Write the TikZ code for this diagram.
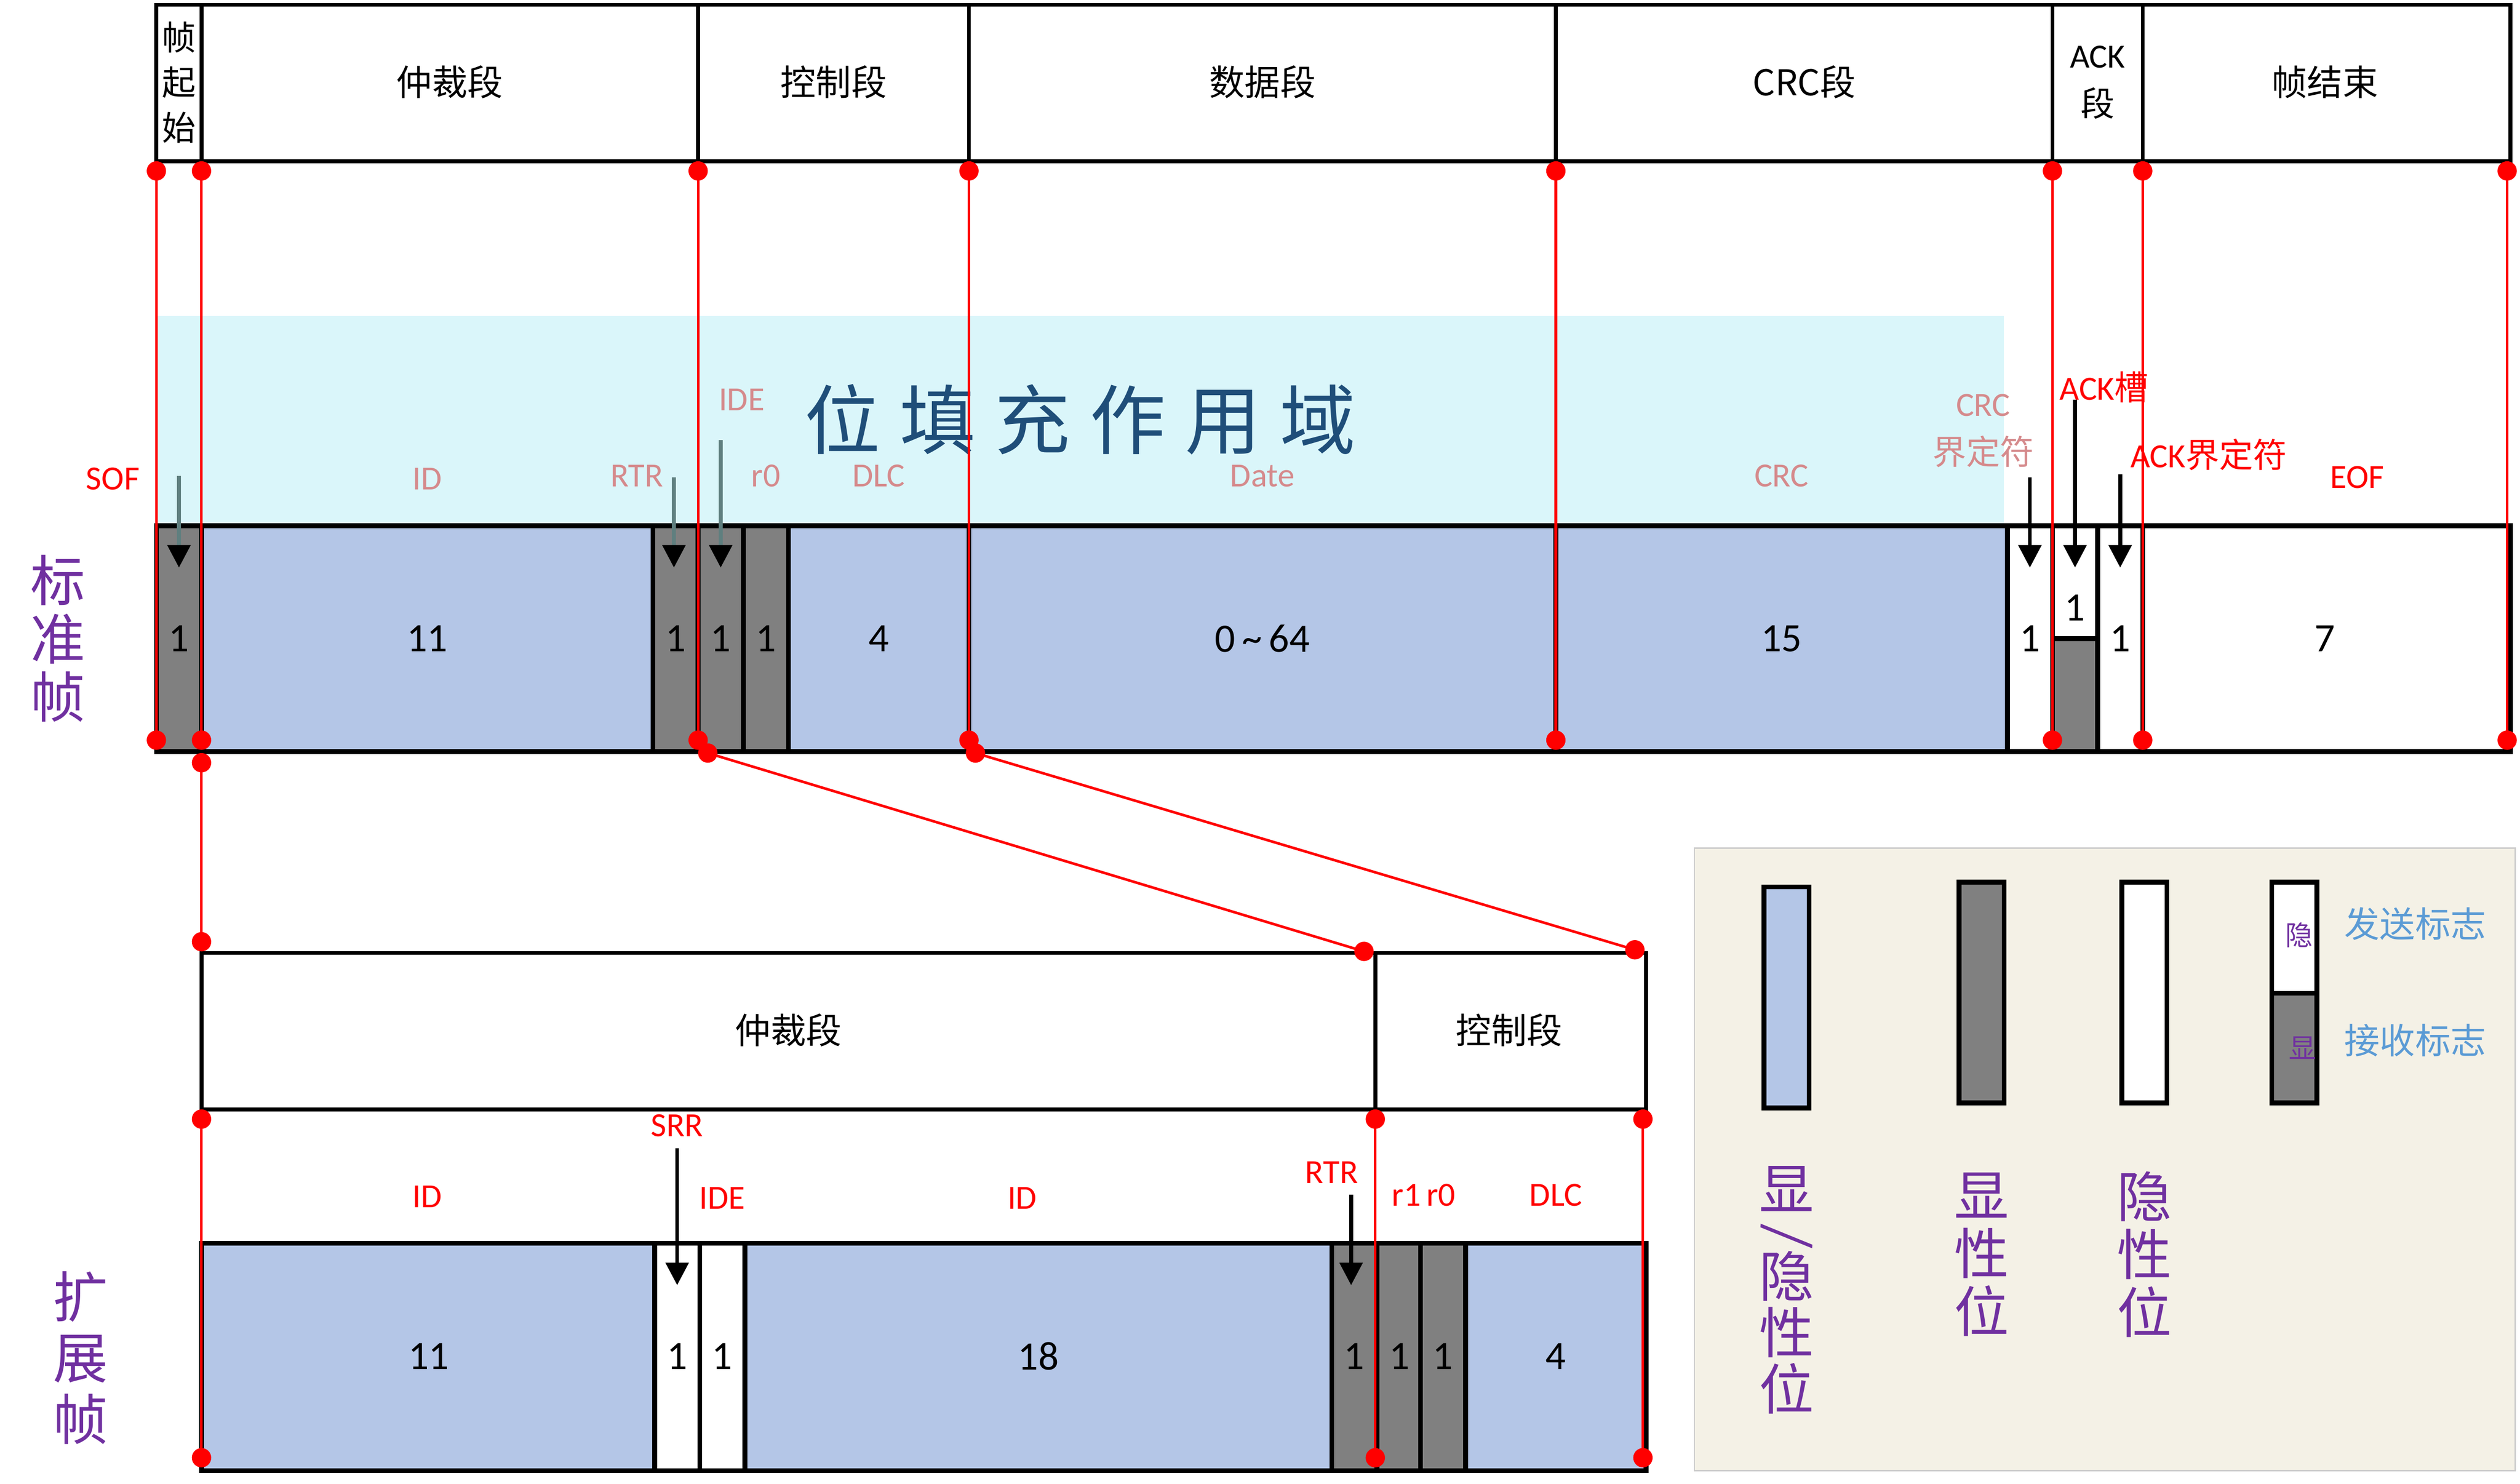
\documentclass[tikz,border=0pt]{standalone}
\usepackage{fontspec}
\setmainfont{Carlito}
\newfontfamily\cjk{Noto Sans CJK SC}
\usetikzlibrary{arrows.meta}
\definecolor{cellblue}{HTML}{B4C6E7}
\definecolor{cellgray}{HTML}{808080}
\definecolor{zone}{HTML}{DAF6FA}
\definecolor{titleblue}{HTML}{1F4E79}
\definecolor{pinklbl}{HTML}{D58A8C}
\definecolor{purp}{HTML}{7030A0}
\definecolor{legbg}{HTML}{F4F1E6}
\definecolor{legtxt}{HTML}{5B9BD5}
\definecolor{shaft}{HTML}{5F7F7F}
\tikzset{
  cellbox/.style={draw=black,line width=1.5pt},
  hdr/.style={font=\cjk\fontsize{11}{13}\selectfont},
  num/.style={font=\fontsize{12.5}{14}\selectfont},
  plbl/.style={text=pinklbl,font=\fontsize{10.5}{12}\selectfont},
  rlbl/.style={text=red,font=\fontsize{10.5}{12}\selectfont},
  dot/.style={circle,fill=red,inner sep=0pt,minimum size=6pt},
  redline/.style={draw=red,line width=0.8pt},
  downarrow/.style={line width=1.2pt,-{Triangle[length=7pt,width=7pt,color=black]}},
  vtxt/.style={text=purp,font=\cjk\fontsize{17}{19}\selectfont,align=center}
}
\begin{document}
\begin{tikzpicture}[x=0.5pt,y=-0.5pt]
\useasboundingbox (0,0) rectangle (1563,920);
% ---- top header ----
\foreach \a/\b in {97/125,125/433,433/601,601/965,965/1273,1273/1329,1329/1557}
  \draw[cellbox,line width=1.2pt] (\a,3) rectangle (\b,100);
\node[hdr,align=center,inner sep=0pt,font=\cjk\fontsize{10.5}{14}\selectfont] (sofh) at (111,51) {帧\\起\\始};
\node[hdr] (arbh) at (279,51) {仲裁段};
\node[hdr] (ctlh) at (517,51) {控制段};
\node[hdr] (dath) at (783,51) {数据段};
\node[hdr] (crch) at (1119,51) {CRC\cjk 段};
\node[hdr,align=center,inner sep=0pt,font=\fontsize{10.5}{15}\selectfont] (ackh) at (1301,51) {ACK\\{\cjk 段}};
\node[hdr] (eofh) at (1442,51) {帧结束};
% ---- stuffing zone ----
\fill[zone] (97,196) rectangle (1243,326);
\node[text=titleblue,font=\cjk\fontsize{23.5}{26}\selectfont] (title) at (670,260) {位\hspace{6pt}填\hspace{6pt}充\hspace{6pt}作\hspace{6pt}用\hspace{6pt}域};
% ---- standard frame ----
\foreach \a/\b/\c in {97/125/cellgray,125/405/cellblue,405/433/cellgray,433/461/cellgray,461/489/cellgray,489/601/cellblue,601/965/cellblue,965/1245/cellblue,1245/1273/white,1301/1329/white,1329/1557/white}
  \draw[cellbox,fill=\c] (\a,326) rectangle (\b,466);
\draw[cellbox,fill=white] (1273,326) rectangle (1301,396);
\draw[cellbox,fill=cellgray] (1273,396) rectangle (1301,466);
\foreach \x/\t in {111/1,265/11,419/1,447/1,475/1,545/4,783/{0\,\textasciitilde\,64},1105/15,1259/1,1315/1,1442/7}
  \node[num] at (\x,396) {\t};
\node[num] at (1287,377) {1};
\node[rlbl] (sof) at (70,297) {SOF};
\node[plbl] (id) at (265,297) {ID};
\node[plbl] (rtr) at (395,295) {RTR};
\node[plbl] (ide) at (460,248) {IDE};
\node[plbl] (r0) at (475,295) {r0};
\node[plbl] (dlc) at (545,295) {DLC};
\node[plbl] (date) at (783,295) {Date};
\node[plbl] (crc) at (1105,295) {CRC};
\node[plbl,align=center,font=\fontsize{10.5}{15}\selectfont] (crcd) at (1230,267) {CRC\\{\cjk 界定符}};
\node[rlbl] (ackslot) at (1305,240) {ACK{\cjk 槽}};
\node[rlbl] (ackd) at (1370,282) {ACK{\cjk 界定符}};
\node[rlbl] (eof) at (1462,296) {EOF};
\node[vtxt,font=\cjk\fontsize{17}{18}\selectfont] (std) at (36,396) {标\\准\\帧};
% arrows
\foreach \x/\y/\c in {111/295/shaft,418/296/shaft,447/273/shaft,1259/296/black,1287/248/black,1315/294/black}
  \draw[downarrow,draw=\c] (\x,\y) -- (\x,352);
% red verticals
\foreach \x in {97,125,433,601,965,1273,1329,1555}{
  \draw[redline] (\x,106) -- (\x,459);
  \node[dot] at (\x,106) {};
  \node[dot] at (\x,459) {};
}
% ---- extended frame ----
\coordinate (e1) at (125,584);
\coordinate (e2) at (846,590);
\coordinate (e3) at (1014,589);
\node[dot] (s1) at (125,473) {};
\node[dot] (s2) at (439,467) {};
\node[dot] (s3) at (605,467) {};
\draw[redline] (s1.center) -- (e1);
\draw[redline] (s2.center) -- (e2);
\draw[redline] (s3.center) -- (e3);
\draw[cellbox,line width=1.2pt] (125,591) rectangle (853,688);
\draw[cellbox,line width=1.2pt] (853,591) rectangle (1021,688);
\node[hdr] (earb) at (489,639) {仲裁段};
\node[hdr] (ectl) at (936,639) {控制段};
\foreach \c in {e1,e2,e3} \node[dot] at (\c) {};
\foreach \a/\b/\c in {125/406/cellblue,406/434/white,434/462/white,462/826/cellblue,826/854/cellgray,854/881/cellgray,881/909/cellgray,909/1021/cellblue}
  \draw[cellbox,fill=\c] (\a,771) rectangle (\b,912);
\foreach \x/\t in {266/11,420/1,448/1,644/18,840/1,868/1,895/1,965/4}
  \node[num] at (\x,841) {\t};
\node[rlbl] (eid) at (265,742) {ID};
\node[rlbl] (srr) at (420,698) {SRR};
\node[rlbl] (eide) at (448,743) {IDE};
\node[rlbl] (eid2) at (634,743) {ID};
\node[rlbl] (ertr) at (826,727) {RTR};
\node[rlbl] (r1r0) at (883,741) {r1\,r0};
\node[rlbl] (edlc) at (965,741) {DLC};
\draw[downarrow] (420,712) -- (420,797);
\draw[downarrow] (838,741) -- (838,797);
\node[vtxt] (ext) at (50,842) {扩\\展\\帧};
\foreach \x in {125,853,1019}{
  \draw[redline] (\x,694) -- (\x,904);
  \node[dot] at (\x,694) {};
  \node[dot] at (\x,904) {};
}
% ---- legend ----
\draw[fill=legbg,draw=black!20] (1051,526) rectangle (1560,912);
\draw[cellbox,fill=cellblue] (1094,550) rectangle (1122,687);
\draw[cellbox,fill=cellgray] (1215,547) rectangle (1243,684);
\draw[cellbox,fill=white] (1316,547) rectangle (1344,684);
\draw[cellbox,fill=white] (1409,547) rectangle (1437,616);
\draw[cellbox,fill=cellgray] (1409,616) rectangle (1437,684);
\node[text=purp,font=\cjk\fontsize{8.5}{9}\selectfont] (yin) at (1426,580) {隐};
\node[text=purp,font=\cjk\fontsize{8.5}{9}\selectfont] (xian) at (1428,650) {显};
\node[text=legtxt,font=\cjk\fontsize{11}{13}\selectfont] (send) at (1498,573) {发送标志};
\node[text=legtxt,font=\cjk\fontsize{11}{13}\selectfont] (recv) at (1498,645) {接收标志};
\node[vtxt,font=\cjk\fontsize{17}{17.5}\selectfont] (l1) at (1108,800) {显\\[-4pt]\rotatebox[origin=c]{-95}{/}\\[-4pt]隐\\性\\位};
\node[vtxt,font=\cjk\fontsize{17}{18}\selectfont] (l2) at (1229,778) {显\\性\\位};
\node[vtxt,font=\cjk\fontsize{17}{18}\selectfont] (l3) at (1330,778) {隐\\性\\位};
\end{tikzpicture}
\end{document}
